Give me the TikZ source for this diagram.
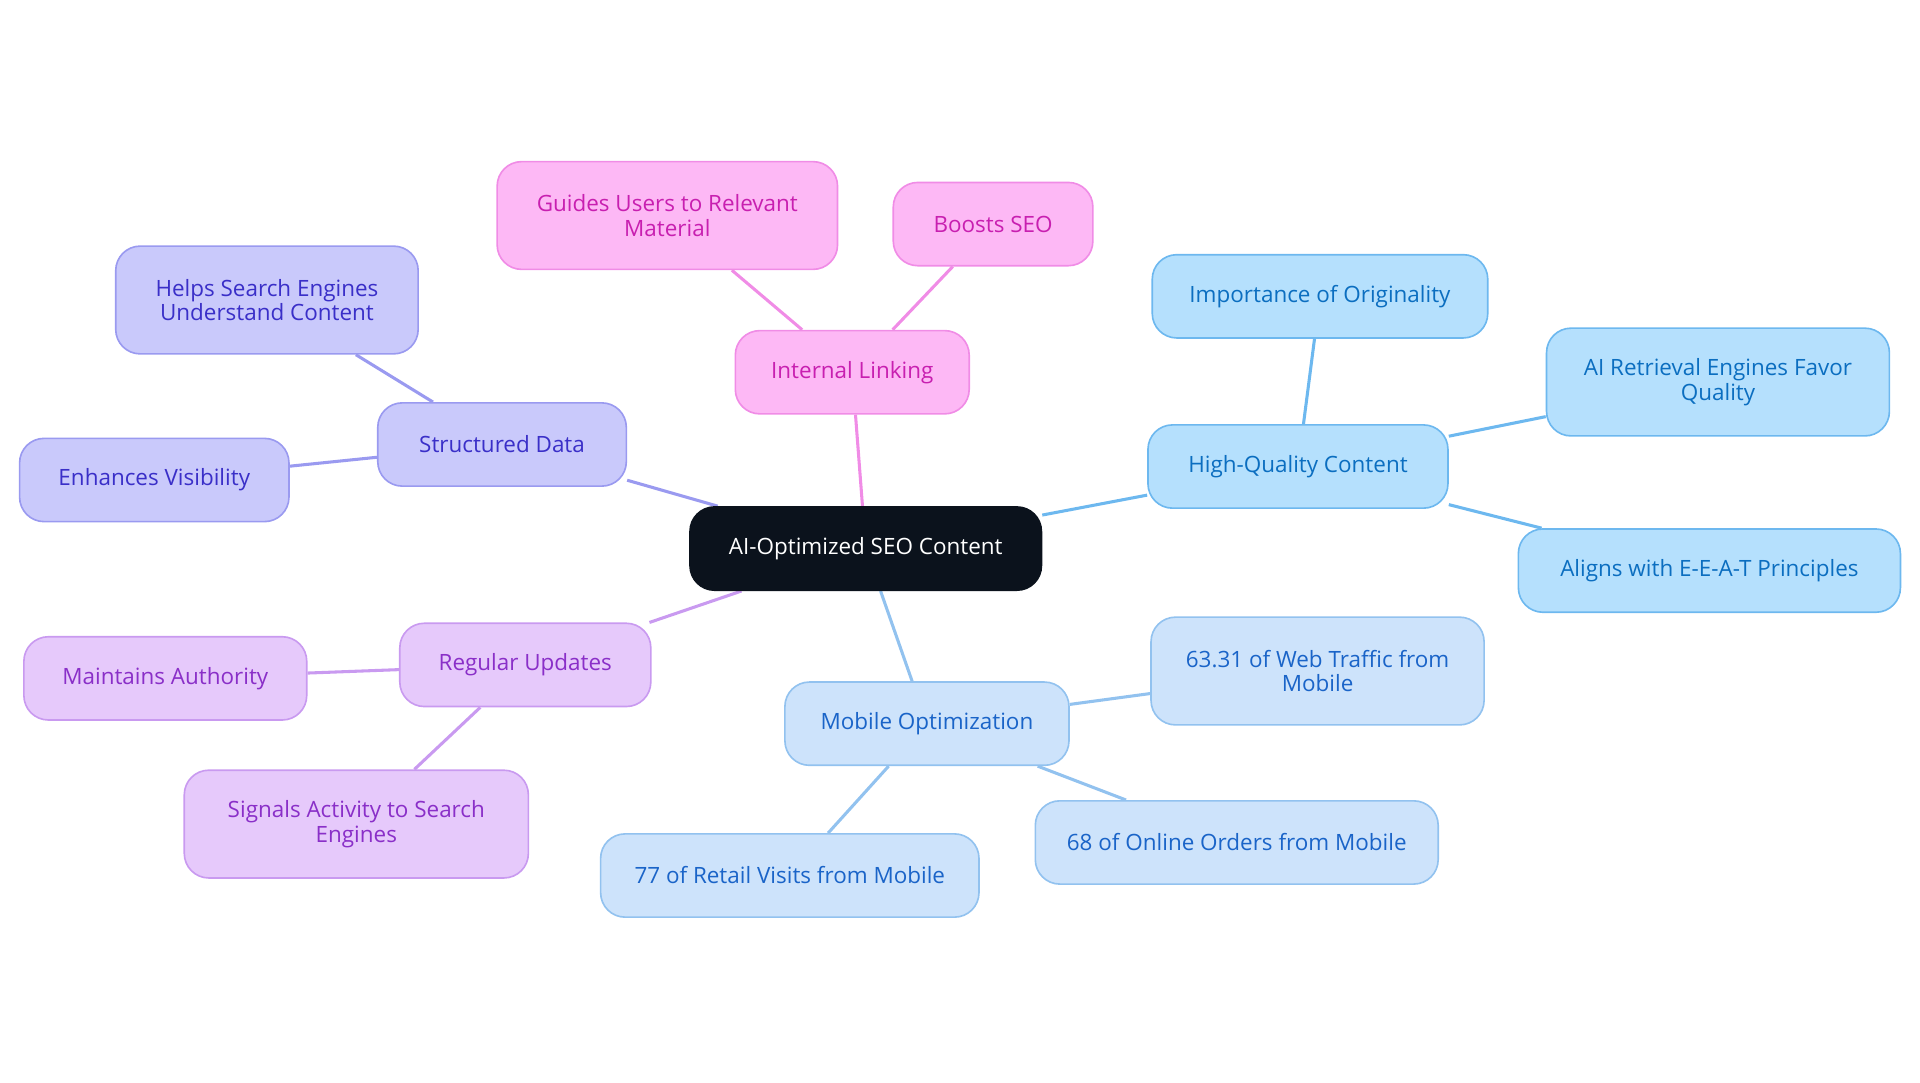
\documentclass[tikz,border=0pt]{standalone}
\usepackage{fontspec}
\setmainfont{Open Sans}
\usetikzlibrary{backgrounds}
\definecolor{cdark}{HTML}{0B121C}
\definecolor{sdF}{HTML}{C9C9FB}\definecolor{sdD}{HTML}{9A9AF0}\definecolor{sdT}{HTML}{3A2FC8}
\definecolor{ilF}{HTML}{FDB8F5}\definecolor{ilD}{HTML}{F08CE6}\definecolor{ilT}{HTML}{C81FB0}
\definecolor{hqF}{HTML}{B5E0FD}\definecolor{hqD}{HTML}{6DB8EF}\definecolor{hqT}{HTML}{0B6EC0}
\definecolor{moF}{HTML}{CDE3FB}\definecolor{moD}{HTML}{92C2EF}\definecolor{moT}{HTML}{1A64C8}
\definecolor{ruF}{HTML}{E6C9FB}\definecolor{ruD}{HTML}{C99AF0}\definecolor{ruT}{HTML}{8A2FC8}
\tikzset{
 base/.style={rounded corners=20*0.6pt, draw, line width=0.8pt, align=center, inner sep=0pt, font=\fontsize{11}{12}\selectfont, minimum height=68*0.6pt},
 sd/.style={base, fill=sdF, draw=sdD, text=sdT},
 il/.style={base, fill=ilF, draw=ilD, text=ilT},
 hq/.style={base, fill=hqF, draw=hqD, text=hqT},
 mo/.style={base, fill=moF, draw=moD, text=moT},
 ru/.style={base, fill=ruF, draw=ruD, text=ruT},
 tall/.style={minimum height=88*0.6pt},
 ln/.style={line width=1.5pt},
}
\begin{document}
\begin{tikzpicture}[x=0.6pt,y=-0.6pt]
\useasboundingbox (0,0) rectangle (1568,884.4);
\node[base, fill=cdark, draw=cdark, text=white, minimum width=287*0.6pt] (c) at (707,448) {AI-Optimized SEO Content};
\node[sd, minimum width=203*0.6pt] (sd) at (410,363) {Structured Data};
\node[sd, tall, minimum width=247*0.6pt] (sd1) at (218,245) {Helps Search Engines\\Understand Content};
\node[sd, minimum width=220*0.6pt] (sd2) at (126,392) {Enhances Visibility};
\node[il, minimum width=191*0.6pt] (il) at (696,304) {Internal Linking};
\node[il, tall, minimum width=278*0.6pt] (il1) at (545,176) {Guides Users to Relevant\\Material};
\node[il, minimum width=163*0.6pt] (il2) at (811,183) {Boosts SEO};
\node[hq, minimum width=245*0.6pt] (hq) at (1060,381) {High-Quality Content};
\node[hq, minimum width=274*0.6pt] (hq1) at (1078,242) {Importance of Originality};
\node[hq, tall, minimum width=280*0.6pt] (hq2) at (1403,312) {AI Retrieval Engines Favor\\Quality};
\node[hq, minimum width=312*0.6pt] (hq3) at (1396,466) {Aligns with E-E-A-T Principles};
\node[mo, minimum width=232*0.6pt] (mo) at (757,591) {Mobile Optimization};
\node[mo, tall, minimum width=272*0.6pt] (mo1) at (1076,548) {63.31 of Web Traffic from\\Mobile};
\node[mo, minimum width=329*0.6pt] (mo2) at (1010,688) {68 of Online Orders from Mobile};
\node[mo, minimum width=309*0.6pt] (mo3) at (645,715) {77 of Retail Visits from Mobile};
\node[ru, minimum width=205*0.6pt] (ru) at (429,543) {Regular Updates};
\node[ru, minimum width=231*0.6pt] (ru1) at (135,554) {Maintains Authority};
\node[ru, tall, minimum width=281*0.6pt] (ru2) at (291,673) {Signals Activity to Search\\Engines};
\begin{scope}[on background layer]
\draw[ln, sdD] (c) -- (sd); \draw[ln, sdD] (sd) -- (sd1); \draw[ln, sdD] (sd) -- (sd2);
\draw[ln, ilD] (c) -- (il); \draw[ln, ilD] (il) -- (il1); \draw[ln, ilD] (il) -- (il2);
\draw[ln, hqD] (c) -- (hq); \draw[ln, hqD] (hq) -- (hq1); \draw[ln, hqD] (hq) -- (hq2); \draw[ln, hqD] (hq) -- (hq3);
\draw[ln, moD] (c) -- (mo); \draw[ln, moD] (mo) -- (mo1); \draw[ln, moD] (mo) -- (mo2); \draw[ln, moD] (mo) -- (mo3);
\draw[ln, ruD] (c) -- (ru); \draw[ln, ruD] (ru) -- (ru1); \draw[ln, ruD] (ru) -- (ru2);
\end{scope}
\end{tikzpicture}
\end{document}
